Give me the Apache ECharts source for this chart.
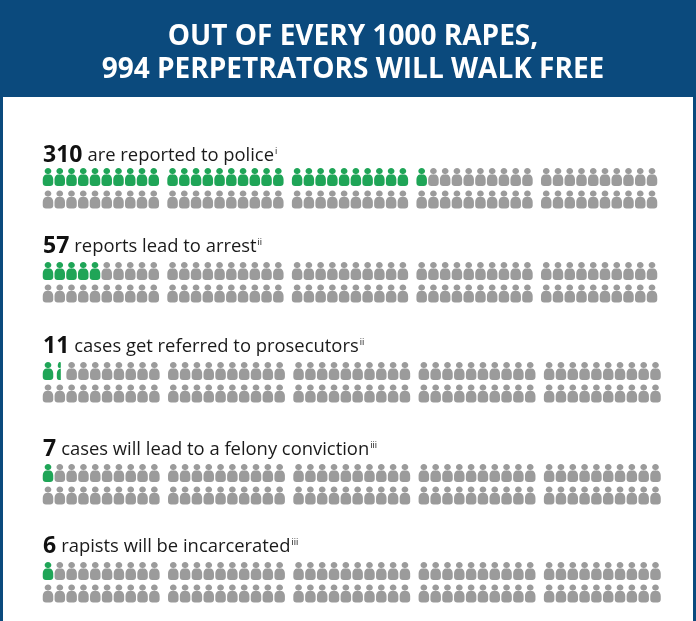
<!DOCTYPE html>
<html>
<head>
<meta charset="utf-8">
<style>html,body{margin:0;padding:0;background:#fff}#chart{width:696px;height:621px}</style>
<script src="https://cdn.jsdelivr.net/npm/echarts@6/dist/echarts.min.js"></script>
</head>
<body>
<div id="chart"></div>
<script>
var titleLines = 'OUT OF EVERY 1000 RAPES,\n994 PERPETRATORS WILL WALK FREE';
var counts = ['310', '57', '11', '7', '6'];
var captions = ['are reported to police', 'reports lead to arrest', 'cases get referred to prosecutors', 'cases will lead to a felony conviction', 'rapists will be incarcerated'];
var notes = ['i', 'ii', 'ii', 'iii', 'iii'];
// green figures in each block, as drawn (one figure stands for 10)
var filled = [31, 5, 1.5, 1, 1];
var groups = 5, perGroup = 10, rows = 2;
var groupStep = 10.6;

var person = 'path://M5 0C6.8 0 8.2 1.4 8.2 3.1C8.2 4.8 6.8 6.2 5 6.2C3.2 6.2 1.8 4.8 1.8 3.1C1.8 1.4 3.2 0 5 0ZM3.2 6.4H6.8C8.8 6.6 10 9 10 11.5V15C10 17 8.8 18 7 18H3C1.2 18 0 17 0 15V11.5C0 9 1.2 6.6 3.2 6.4Z';
var sliver = 'path://M2.4 0C3 0 3.4 .4 3.4 1V5.4C2.6 6.2 1.6 6 1.1 5.2C.5 3.6 1 .4 2.4 0ZM3.4 6.4V18H1.8C.8 18 0 17 0 15V11.5C0 9 1.2 6.7 3.4 6.4Z';

var blockTop = [168, 262, 362, 464, 562];
var blockWidth = [604, 604, 607.5, 607.5, 607.5];
var labelTop = [144, 235, 335, 438, 535];

var grids = [], xAxes = [], yAxes = [], series = [], titles = [];
titles.push({
  text: titleLines, left: 353, top: 21, padding: 0, textAlign: 'center',
  textStyle: {color: '#fff', fontFamily: 'Open Sans', fontWeight: 700, fontSize: 28, lineHeight: 33}
});
counts.forEach(function (c, b) {
  titles.push({
    text: '{n|' + c + '} {t|' + captions[b] + '}{s|' + notes[b] + '}',
    left: 43, top: labelTop[b], padding: 0,
    textStyle: {rich: {
      n: {fontFamily: 'Open Sans', fontWeight: 700, fontSize: 23, color: '#111'},
      t: {fontFamily: 'Open Sans', fontWeight: 400, fontSize: 18.4, color: '#1a1a1a'},
      s: {fontFamily: 'Open Sans', fontWeight: 400, fontSize: 9, color: '#111', padding: [0, 0, 8, 1]}
    }}
  });
  grids.push({left: 48, top: blockTop[b] + 9, width: blockWidth[b], height: 22.5, show: false});
  xAxes.push({type: 'value', gridIndex: b, min: 0, max: (groups - 1) * groupStep + perGroup - 1, show: false});
  yAxes.push({type: 'value', gridIndex: b, min: 0, max: rows - 1, inverse: true, show: false});

  var grey = [], green = [], part = [];
  for (var i = 0; i < rows * groups * perGroup; i++) {
    var row = Math.floor(i / (groups * perGroup));
    var slot = i % (groups * perGroup);
    var g = Math.floor(slot / perGroup);
    var pt = [g * groupStep + (slot % perGroup), row];
    if (i + 1 <= filled[b]) green.push(pt);
    else if (i < filled[b]) part.push(pt);
    else grey.push(pt);
  }
  series.push({type: 'scatter', xAxisIndex: b, yAxisIndex: b, symbol: person, symbolSize: [10.5, 18], data: grey, itemStyle: {color: '#9b9b9b', opacity: 1}, silent: true, animation: false, clip: false});
  series.push({type: 'scatter', xAxisIndex: b, yAxisIndex: b, symbol: person, symbolSize: [10.5, 18], data: green, itemStyle: {color: '#1fa557', opacity: 1}, silent: true, animation: false, clip: false});
  if (part.length) series.push({type: 'scatter', xAxisIndex: b, yAxisIndex: b, symbol: sliver, symbolSize: [4, 18], symbolOffset: [-1, 0], data: part, itemStyle: {color: '#1fa557', opacity: 1}, silent: true, animation: false, clip: false});
});

var chart = echarts.init(document.getElementById('chart'));
chart.setOption({
  backgroundColor: '#0b4a7d',
  animation: false,
  graphic: [{type: 'rect', z: -1, shape: {x: 3, y: 97, width: 690, height: 524}, style: {fill: '#fff'}}],
  title: titles,
  grid: grids,
  xAxis: xAxes,
  yAxis: yAxes,
  series: series
});
</script>
</body>
</html>
